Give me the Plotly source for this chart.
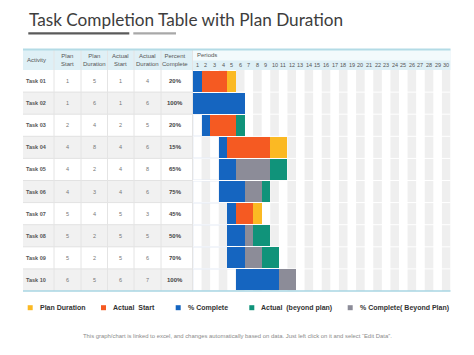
import plotly.graph_objects as go

W, H = 474, 355

tasks = ["Task 01", "Task 02", "Task 03", "Task 04", "Task 05",
         "Task 06", "Task 07", "Task 08", "Task 09", "Task 10"]
plan_start = [1, 1, 2, 4, 4, 4, 5, 5, 5, 6]
plan_duration = [5, 6, 4, 8, 2, 3, 4, 2, 2, 5]
actual_start = [1, 1, 2, 4, 4, 4, 5, 5, 5, 6]
actual_duration = [4, 6, 5, 6, 8, 6, 3, 5, 6, 7]
percent_complete = ["20%", "100%", "20%", "15%", "65%", "75%", "45%", "50%", "70%", "100%"]

# Gantt segments (in periods)
seg_complete = [1, 6, 1, 1, 2, 3, 1, 2, 2, 5]          # % Complete
seg_complete_beyond = [0, 0, 0, 0, 4, 2, 0, 1, 2, 2]   # % Complete( Beyond Plan)
seg_actual = [3, 0, 3, 5, 0, 0, 2, 0, 0, 0]            # Actual  Start
seg_plan = [1, 0, 0, 2, 0, 0, 1, 0, 0, 0]              # Plan Duration
seg_beyond = [0, 0, 1, 0, 2, 1, 0, 2, 2, 0]            # Actual (beyond plan)

periods = list(range(1, 31))

C_BLUE = "#1565c0"
C_GRAY = "#8c8c98"
C_ORANGE = "#f55a22"
C_YELLOW = "#fbb923"
C_TEAL = "#10937a"

def px(x):
    return x / W

def py(y):
    return 1 - y / H

TOP, HEAD_BOT, BOT = 49.5, 70.0, 291.0
P0, P1 = 193.0, 450.5
L = 23.0

fig = go.Figure()

offset = [s - 1 for s in actual_start]
fig.add_trace(go.Bar(y=tasks, x=offset, orientation="h",
                     marker=dict(color="rgba(0,0,0,0)"), hoverinfo="skip",
                     showlegend=False))
series = [
    ("% Complete", seg_complete, C_BLUE),
    ("% Complete( Beyond Plan)", seg_complete_beyond, C_GRAY),
    ("Actual  Start", seg_actual, C_ORANGE),
    ("Plan Duration", seg_plan, C_YELLOW),
    ("Actual (beyond plan)", seg_beyond, C_TEAL),
]
for name, vals, col in series:
    fig.add_trace(go.Bar(y=tasks, x=vals, orientation="h", name=name,
                         marker=dict(color=col, line=dict(width=0)),
                         showlegend=False))

shapes = []
# header background
shapes.append(dict(type="rect", xref="paper", yref="paper",
                   x0=px(L), x1=px(P1), y0=py(HEAD_BOT), y1=py(TOP),
                   fillcolor="#dff0f6", line=dict(width=0), layer="below"))
shapes.append(dict(type="rect", xref="paper", yref="paper",
                   x0=px(P0), x1=px(P1), y0=py(60.5), y1=py(TOP),
                   fillcolor="#f3fafc", line=dict(width=0), layer="below"))
# alternating row shading in table
for i in range(len(tasks)):
    if i % 2 == 1:
        shapes.append(dict(type="rect", xref="paper", yref="y",
                           x0=px(L), x1=px(P0), y0=i - 0.5, y1=i + 0.5,
                           fillcolor="#f1f1f1", line=dict(width=0), layer="below"))
# period column stripes
for p in periods:
    if p % 2 == 0:
        shapes.append(dict(type="rect", xref="x", yref="paper",
                           x0=p - 1, x1=p, y0=py(BOT), y1=py(HEAD_BOT),
                           fillcolor="#efefef", line=dict(width=0), layer="below"))
# row separators
for i in range(len(tasks) - 1):
    shapes.append(dict(type="line", xref="paper", yref="y",
                       x0=px(L), x1=px(P0), y0=i + 0.5, y1=i + 0.5,
                       line=dict(color="#e2e2e2", width=1), layer="below"))
    shapes.append(dict(type="line", xref="paper", yref="y",
                       x0=px(P0), x1=px(P1), y0=i + 0.5, y1=i + 0.5,
                       line=dict(color="#ffffff", width=1), layer="below"))
# column separators
col_lines = [54, 81, 107.5, 134, 161, 192.5]
for cx in col_lines:
    shapes.append(dict(type="line", xref="paper", yref="paper",
                       x0=px(cx), x1=px(cx), y0=py(BOT), y1=py(TOP),
                       line=dict(color="#e4e4e4", width=1), layer="below"))
# top and bottom lines
shapes.append(dict(type="line", xref="paper", yref="paper",
                   x0=px(L), x1=px(P1), y0=py(TOP), y1=py(TOP),
                   line=dict(color="#b3dbe6", width=2)))
shapes.append(dict(type="line", xref="paper", yref="paper",
                   x0=px(L), x1=px(P1), y0=py(BOT), y1=py(BOT),
                   line=dict(color="#a9d6e3", width=1.5)))
# title underline bars
shapes.append(dict(type="rect", xref="paper", yref="paper",
                   x0=px(28.3), x1=px(129.3), y0=py(34.4), y1=py(32.2),
                   fillcolor="#5a5a5a", line=dict(width=0)))
shapes.append(dict(type="rect", xref="paper", yref="paper",
                   x0=px(133.3), x1=px(176), y0=py(34.4), y1=py(32.2),
                   fillcolor="#a8a8a8", line=dict(width=0)))

ann = []
ann.append(dict(text="Task Completion Table with Plan Duration", xref="paper", yref="paper",
                x=px(27), y=py(19.3), xanchor="left", yanchor="middle", showarrow=False,
                font=dict(family="Lato", size=17.2, color="#3d3d3d")))

FONT = "Liberation Sans"
headers = [("Activity", 36), ("Plan<br>Start", 67.5), ("Plan<br>Duration", 94),
           ("Actual<br>Start", 120.7), ("Actual<br>Duration", 147.3),
           ("Percent<br>Complete", 175)]
for txt, cx in headers:
    ann.append(dict(text=txt, xref="paper", yref="paper", x=px(cx), y=py(59.5),
                    xanchor="center", yanchor="middle", showarrow=False,
                    font=dict(family=FONT, size=6, color="#555555")))
ann.append(dict(text="Periods", xref="paper", yref="paper", x=px(195), y=py(54.5),
                xanchor="left", yanchor="middle", showarrow=False,
                font=dict(family=FONT, size=6, color="#555555")))
for p in periods:
    ann.append(dict(text=str(p), xref="x", yref="paper", x=p - 0.5, y=py(65),
                    xanchor="center", yanchor="middle", showarrow=False,
                    font=dict(family=FONT, size=5.5, color="#555555")))

cols = [(plan_start, 67.5), (plan_duration, 94), (actual_start, 120.7),
        (actual_duration, 147.3)]
for i, t in enumerate(tasks):
    ann.append(dict(text="<b>%s</b>" % t, xref="paper", yref="y", x=px(36), y=i,
                    xanchor="center", yanchor="middle", showarrow=False,
                    font=dict(family=FONT, size=5.5, color="#555555")))
    for vals, cx in cols:
        ann.append(dict(text=str(vals[i]), xref="paper", yref="y", x=px(cx), y=i,
                        xanchor="center", yanchor="middle", showarrow=False,
                        font=dict(family=FONT, size=5.5, color="#777777")))
    ann.append(dict(text="<b>%s</b>" % percent_complete[i], xref="paper", yref="y",
                    x=px(175), y=i, xanchor="center", yanchor="middle", showarrow=False,
                    font=dict(family=FONT, size=6, color="#444444")))

# legend (manual)
legend_items = [("Plan Duration", C_YELLOW, 27.7), ("Actual  Start", C_ORANGE, 101),
                ("% Complete", C_BLUE, 175.7), ("Actual  (beyond plan)", C_TEAL, 249.3),
                ("% Complete( Beyond Plan)", C_GRAY, 347.7)]
LY = 307.7
for name, col, lx in legend_items:
    shapes.append(dict(type="rect", xref="paper", yref="paper",
                       x0=px(lx), x1=px(lx + 5), y0=py(LY + 2.5), y1=py(LY - 2.5),
                       fillcolor=col, line=dict(width=0)))
    ann.append(dict(text="<b>%s</b>" % name, xref="paper", yref="paper",
                    x=px(lx + 10), y=py(LY), xanchor="left", yanchor="middle",
                    showarrow=False, font=dict(family=FONT, size=7, color="#333333")))

ann.append(dict(text="This graph/chart is linked to excel, and changes automatically based on data. "
                     "Just left click on it and select \u201cEdit Data\u201d.",
                xref="paper", yref="paper", x=px(237), y=py(336), xanchor="center",
                yanchor="middle", showarrow=False,
                font=dict(family=FONT, size=5.9, color="#8a8a8a")))

fig.update_layout(
    width=W, height=H, margin=dict(l=0, r=0, t=0, b=0),
    paper_bgcolor="white", plot_bgcolor="rgba(0,0,0,0)",
    barmode="stack", bargap=0.05, showlegend=False,
    xaxis=dict(domain=[px(P0), px(P1)], range=[0, 30], visible=False, fixedrange=True),
    yaxis=dict(domain=[py(BOT), py(HEAD_BOT)], type="category", categoryorder="array",
               categoryarray=tasks, range=[9.5, -0.5], visible=False, fixedrange=True),
    shapes=shapes, annotations=ann,
)

fig.write_html("out.html")
